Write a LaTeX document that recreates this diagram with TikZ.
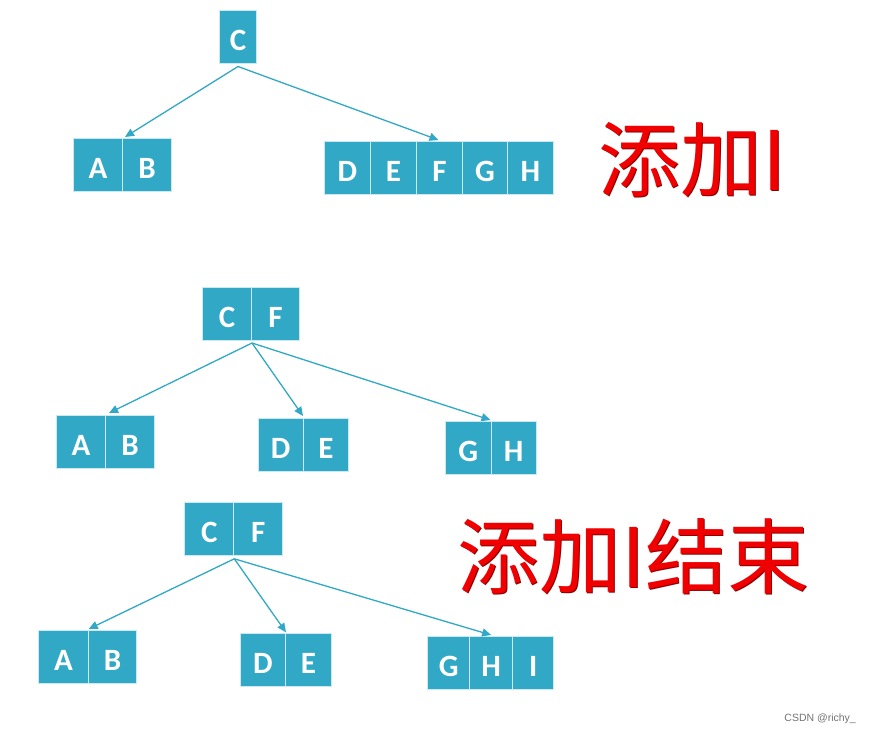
\documentclass[tikz,border=0pt]{standalone}
\usepackage{fontspec}
\usetikzlibrary{arrows.meta,calc}
\newfontfamily\carlito{Carlito}
\newfontfamily\cjkfont{Noto Sans CJK SC}
\newfontfamily\wmfont{Liberation Sans}
\definecolor{boxc}{HTML}{31A8C5}
\definecolor{redtxt}{HTML}{F00000}
\definecolor{redshade}{HTML}{8A0000}
\tikzset{
  cell/.style={fill=boxc, draw=white!75!boxc, line width=1pt, text=white,
    font=\carlito\bfseries\fontsize{31}{31}\selectfont, inner sep=0pt,
    anchor=north west, text height=39.5pt, text depth=13pt, minimum height=52.5pt},
  link/.style={draw=boxc, line width=1.3pt, -{Triangle[length=9pt,width=8pt]}},
  title/.style={anchor=base west, inner sep=0pt, font=\cjkfont\fontsize{82}{82}\selectfont},
}
\begin{document}
\begin{tikzpicture}[x=1pt,y=-1pt]
\useasboundingbox (0,0) rectangle (870,732);
% ---------- top tree ----------
\node[cell, minimum width=37pt] (tC) at (219,10) {C};
\node[cell, minimum width=49pt] (tA) at (73,138) {A};
\node[cell, minimum width=49pt] (tB) at (122,138) {B};
\node[cell, minimum width=46pt] (tD) at (324,141) {D};
\node[cell, minimum width=46pt] (tE) at (370,141) {E};
\node[cell, minimum width=46pt] (tF) at (416,141) {F};
\node[cell, minimum width=45pt] (tG) at (462,141) {G};
\node[cell, minimum width=46pt] (tH) at (507,141) {H};
\coordinate (tS) at ($(tC.south)+(0,3)$);
\draw[link] (tS) -- ($(tB.north west)+(3,-1)$);
\draw[link] (tS) -- ($(tF.north)+(-1,-1)$);
\node[title, text=redshade] at (599.5,191.5) {添加I};
\node[title, text=redtxt] at (598,190) {添加I};
% ---------- middle tree ----------
\node[cell, minimum width=49pt] (mC) at (202,287) {C};
\node[cell, minimum width=48pt] (mF) at (251,287) {F};
\node[cell, minimum width=49pt] (mA) at (56,415) {A};
\node[cell, minimum width=49pt] (mB) at (105,415) {B};
\node[cell, minimum width=45.5pt] (mD) at (257.5,418) {D};
\node[cell, minimum width=45pt] (mE) at (303,418) {E};
\node[cell, minimum width=45.5pt] (mG) at (445,421) {G};
\node[cell, minimum width=45.5pt] (mH) at (490.5,421) {H};
\coordinate (mS) at ($(mC.south east)+(0,2.5)$);
\draw[link] (mS) -- ($(mB.north west)+(4,-2)$);
\draw[link] (mS) -- ($(mD.north east)+(-1,-2)$);
\draw[link] (mS) -- ($(mG.north east)+(-1,-1)$);
% ---------- bottom tree ----------
\node[cell, minimum width=49pt] (bC) at (184.3,502.3) {C};
\node[cell, minimum width=49pt] (bF) at (233.3,502.3) {F};
\node[cell, minimum width=49.4pt] (bA) at (38.3,630) {A};
\node[cell, minimum width=48.6pt] (bB) at (87.7,630) {B};
\node[cell, minimum width=45pt] (bD) at (240,633.3) {D};
\node[cell, minimum width=45.7pt] (bE) at (285,633.3) {E};
\node[cell, minimum width=42pt] (bG) at (427.3,636) {G};
\node[cell, minimum width=42.7pt] (bH) at (469.3,636) {H};
\node[cell, minimum width=41.3pt] (bI) at (512,636) {I};
\coordinate (bS) at ($(bC.south east)+(0,3)$);
\draw[link] (bS) -- ($(bB.north west)+(1,-1)$);
\draw[link] (bS) -- ($(bD.north east)+(0,-1)$);
\draw[link] (bS) -- ($(bH.north)+(0,-1)$);
\node[title, text=redshade] at (458.5,588.5) {添加I结束};
\node[title, text=redtxt] at (457,587) {添加I结束};
% ---------- watermark ----------
\node[anchor=base east, inner sep=0pt, text=black!55, font=\wmfont\fontsize{10.5}{10.5}\selectfont] (wm) at (856,721) {CSDN @richy\_};
\end{tikzpicture}
\end{document}
